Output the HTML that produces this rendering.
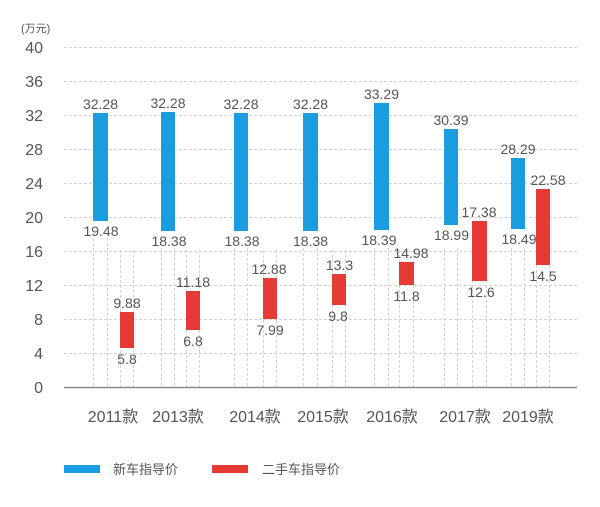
<!DOCTYPE html>
<html><head><meta charset="utf-8"><style>
html,body{margin:0;padding:0;background:#fff;}
svg{display:block;}
text{font-family:"Liberation Sans","Noto Sans CJK SC",sans-serif;fill:#555;}
</style></head><body>
<svg width="600" height="507" viewBox="0 0 600 507" xmlns="http://www.w3.org/2000/svg">
<rect width="600" height="507" fill="#fff"/>
<!-- horizontal grid -->
<g stroke="#d2d2d2" stroke-width="1" stroke-dasharray="3,2">
<line x1="64" y1="47.5" x2="577" y2="47.5"/>
<line x1="64" y1="81.5" x2="577" y2="81.5"/>
<line x1="64" y1="115.5" x2="577" y2="115.5"/>
<line x1="64" y1="149.5" x2="577" y2="149.5"/>
<line x1="64" y1="183.5" x2="577" y2="183.5"/>
<line x1="64" y1="217.5" x2="577" y2="217.5"/>
<line x1="64" y1="251.5" x2="577" y2="251.5"/>
<line x1="64" y1="285.5" x2="577" y2="285.5"/>
<line x1="64" y1="319.5" x2="577" y2="319.5"/>
<line x1="64" y1="353.5" x2="577" y2="353.5"/>
</g>
<!-- vertical dashed lines -->
<g stroke="#d2d2d2" stroke-width="1" stroke-dasharray="3,2">
<line x1="93.5" y1="238" x2="93.5" y2="387"/><line x1="107.5" y1="238" x2="107.5" y2="387"/>
<line x1="120.5" y1="250" x2="120.5" y2="387"/><line x1="133.5" y1="250" x2="133.5" y2="387"/>
<line x1="161.5" y1="248" x2="161.5" y2="387"/><line x1="174.5" y1="248" x2="174.5" y2="387"/>
<line x1="186.5" y1="250" x2="186.5" y2="387"/><line x1="199.5" y1="250" x2="199.5" y2="387"/>
<line x1="234.5" y1="248" x2="234.5" y2="387"/><line x1="247.5" y1="248" x2="247.5" y2="387"/>
<line x1="263.5" y1="250" x2="263.5" y2="387"/><line x1="276.5" y1="250" x2="276.5" y2="387"/>
<line x1="303.5" y1="248" x2="303.5" y2="387"/><line x1="317.5" y1="248" x2="317.5" y2="387"/>
<line x1="332.5" y1="250" x2="332.5" y2="387"/><line x1="345.5" y1="250" x2="345.5" y2="387"/>
<line x1="374.5" y1="248" x2="374.5" y2="387"/><line x1="388.5" y1="248" x2="388.5" y2="387"/>
<line x1="399.5" y1="250" x2="399.5" y2="387"/><line x1="413.5" y1="250" x2="413.5" y2="387"/>
<line x1="444.5" y1="248" x2="444.5" y2="387"/><line x1="457.5" y1="248" x2="457.5" y2="387"/>
<line x1="472.5" y1="250" x2="472.5" y2="387"/><line x1="486.5" y1="250" x2="486.5" y2="387"/>
<line x1="511.5" y1="248" x2="511.5" y2="387"/><line x1="524.5" y1="248" x2="524.5" y2="387"/>
<line x1="536.5" y1="250" x2="536.5" y2="387"/><line x1="549.5" y1="250" x2="549.5" y2="387"/>
</g>
<!-- axis -->
<line x1="64" y1="387.5" x2="577" y2="387.5" stroke="#8a8a8a" stroke-width="1.5"/>
<!-- y labels -->
<text x="21" y="32" font-size="11">(万元)</text>
<g font-size="16" text-anchor="end">
<text x="43" y="53">40</text>
<text x="43" y="87">36</text>
<text x="43" y="121">32</text>
<text x="43" y="155">28</text>
<text x="43" y="189">24</text>
<text x="43" y="223">20</text>
<text x="43" y="257">16</text>
<text x="43" y="291">12</text>
<text x="43" y="325">8</text>
<text x="43" y="359">4</text>
<text x="43" y="393">0</text>
</g>
<!-- blue bars -->
<g fill="#1a9de0">
<rect x="93" y="113" width="15" height="108"/>
<rect x="161" y="112" width="14" height="119"/>
<rect x="234" y="113" width="14" height="118"/>
<rect x="303" y="113" width="15" height="118"/>
<rect x="374" y="103" width="15" height="127"/>
<rect x="444" y="129" width="14" height="96"/>
<rect x="511" y="158" width="14" height="71"/>
</g>
<!-- red bars -->
<g fill="#e63b35">
<rect x="120" y="312" width="14" height="36"/>
<rect x="186" y="291" width="14" height="39"/>
<rect x="263" y="278" width="14" height="41"/>
<rect x="332" y="274" width="14" height="31"/>
<rect x="399" y="262" width="15" height="23"/>
<rect x="472" y="221" width="15" height="60"/>
<rect x="536" y="189" width="14" height="76"/>
</g>
<!-- value labels -->
<g font-size="14" text-anchor="middle">
<text x="100.5" y="109">32.28</text>
<text x="168" y="108">32.28</text>
<text x="241" y="109">32.28</text>
<text x="310.5" y="109">32.28</text>
<text x="381.5" y="99">33.29</text>
<text x="451" y="125">30.39</text>
<text x="518" y="154">28.29</text>
<text x="101" y="236">19.48</text>
<text x="169" y="246">18.38</text>
<text x="242" y="246">18.38</text>
<text x="310.5" y="246">18.38</text>
<text x="379" y="245">18.39</text>
<text x="451.5" y="240">18.99</text>
<text x="519" y="244">18.49</text>
<text x="127" y="308">9.88</text>
<text x="193" y="287">11.18</text>
<text x="269" y="274">12.88</text>
<text x="339.5" y="270">13.3</text>
<text x="411" y="258">14.98</text>
<text x="479" y="217">17.38</text>
<text x="548" y="185">22.58</text>
<text x="127" y="364">5.8</text>
<text x="193" y="346">6.8</text>
<text x="270" y="335">7.99</text>
<text x="338" y="321">9.8</text>
<text x="406.5" y="301">11.8</text>
<text x="481" y="297">12.6</text>
<text x="543" y="281">14.5</text>
</g>
<!-- x labels -->
<g font-size="16" text-anchor="middle">
<text x="113" y="422">2011款</text>
<text x="178" y="422">2013款</text>
<text x="255" y="422">2014款</text>
<text x="323" y="422">2015款</text>
<text x="392" y="422">2016款</text>
<text x="465" y="422">2017款</text>
<text x="528" y="422">2019款</text>
</g>
<!-- legend -->
<rect x="64" y="465" width="36" height="8" fill="#1a9de0"/>
<text x="113" y="474" font-size="13">新车指导价</text>
<rect x="212" y="465" width="36" height="8" fill="#e63b35"/>
<text x="262" y="474" font-size="13">二手车指导价</text>
</svg>
</body></html>
